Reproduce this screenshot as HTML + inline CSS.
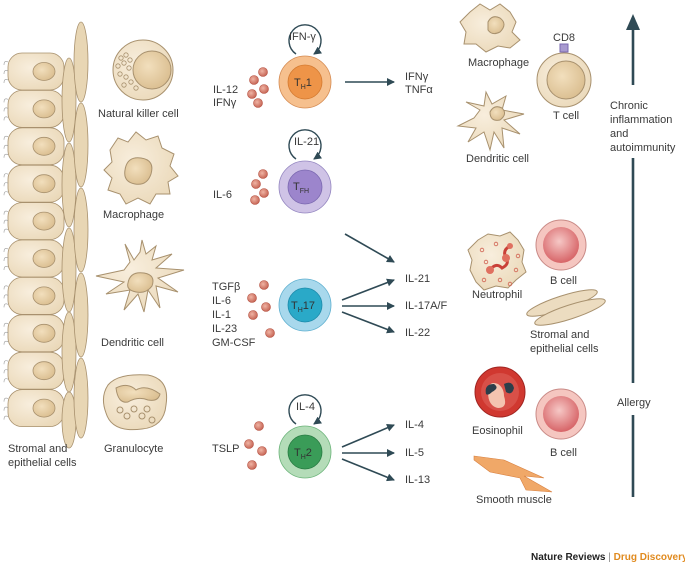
<!DOCTYPE html>
<html><head><meta charset="utf-8"><style>
html,body{margin:0;padding:0;background:#fff;}
svg{display:block;font-family:"Liberation Sans",sans-serif;}
text{fill:#3a3a3a;font-size:11px;}
</style></head><body>
<svg width="685" height="569" viewBox="0 0 685 569" xmlns="http://www.w3.org/2000/svg">
<defs>
<radialGradient id="beige" cx="0.4" cy="0.4" r="0.7"><stop offset="0" stop-color="#f8eedd"/><stop offset="1" stop-color="#ead8b8"/></radialGradient>
<radialGradient id="nuc" cx="0.4" cy="0.4" r="0.7"><stop offset="0" stop-color="#f2dfbd"/><stop offset="1" stop-color="#d8bb8c"/></radialGradient>
<radialGradient id="red" cx="0.4" cy="0.4" r="0.7"><stop offset="0" stop-color="#f0b4a4"/><stop offset="1" stop-color="#c05a4a"/></radialGradient>
<radialGradient id="bred" cx="0.45" cy="0.4" r="0.7"><stop offset="0" stop-color="#f6c8c6"/><stop offset="1" stop-color="#d25458"/></radialGradient>
<marker id="ah" markerWidth="8" markerHeight="8" refX="7" refY="4" orient="auto" markerUnits="userSpaceOnUse"><path d="M0,0 L8,4 L0,8 z" fill="#2f4a55"/></marker>
</defs>

<!-- epithelial column -->
<g stroke="#a8916e" stroke-width="0.8">
<g id="ep">
<rect x="8" y="53" width="56" height="37" rx="14" fill="url(#beige)"/>
<ellipse cx="44" cy="71.5" rx="11" ry="9" fill="url(#nuc)"/>
<path d="M8,62 q-4,-2 -4,3 M8,71 q-4,-2 -4,3 M8,80 q-4,-2 -4,3" fill="none" stroke="#999" stroke-width="0.6"/>
</g>
<use href="#ep" y="37.4"/><use href="#ep" y="74.8"/><use href="#ep" y="112.2"/><use href="#ep" y="149.6"/>
<use href="#ep" y="187"/><use href="#ep" y="224.4"/><use href="#ep" y="261.8"/><use href="#ep" y="299.2"/><use href="#ep" y="336.6"/>
<g fill="#e8d6b4">
<ellipse cx="69" cy="100" rx="7" ry="42"/><ellipse cx="69" cy="185" rx="7" ry="42"/><ellipse cx="69" cy="270" rx="7" ry="42"/><ellipse cx="69" cy="352" rx="7" ry="40"/><ellipse cx="69" cy="420" rx="7" ry="28"/>
<ellipse cx="81" cy="62" rx="7" ry="40"/><ellipse cx="81" cy="145" rx="7" ry="42"/><ellipse cx="81" cy="230" rx="7" ry="42"/><ellipse cx="81" cy="315" rx="7" ry="42"/><ellipse cx="81" cy="398" rx="7" ry="40"/>
</g>
</g>
<text x="8" y="452">Stromal and</text><text x="8" y="466">epithelial cells</text>

<!-- NK cell -->
<circle cx="143" cy="70" r="30" fill="url(#beige)" stroke="#a8916e"/>
<circle cx="152" cy="70" r="19" fill="url(#nuc)" stroke="#a8916e"/>
<g fill="none" stroke="#a8916e" stroke-width="0.8">
<circle cx="121" cy="58" r="2.2"/><circle cx="126" cy="55" r="2.2"/><circle cx="118" cy="66" r="2.2"/><circle cx="124" cy="63" r="2.2"/><circle cx="129" cy="68" r="2.2"/><circle cx="120" cy="74" r="2.2"/><circle cx="126" cy="77" r="2.2"/><circle cx="131" cy="82" r="2.2"/><circle cx="124" cy="85" r="2.2"/><circle cx="136" cy="88" r="2.2"/><circle cx="130" cy="60" r="2.2"/>
</g>
<text x="98" y="117">Natural killer cell</text>

<!-- Macrophage -->
<path d="M110,150 l8,-12 10,4 8,-10 10,8 12,-4 4,12 12,6 -4,12 8,10 -10,6 2,12 -14,0 -6,10 -12,-6 -12,6 -6,-10 -12,-4 4,-12 -8,-8 8,-8z" fill="url(#beige)" stroke="#a8916e"/>
<path d="M125,170 q2,-14 16,-12 q14,2 10,16 q-4,12 -16,10 q-12,-2 -10,-14z" fill="url(#nuc)" stroke="#a8916e"/>
<text x="103" y="218">Macrophage</text>

<!-- Dendritic -->
<path d="M130,262 l-5,-18 9,16 6,-8 2,-12 4,14 10,-8 -4,14 20,-6 -16,14 28,2 -26,8 20,14 -22,-6 4,22 -12,-18 -4,22 -6,-18 -14,16 6,-20 -24,4 18,-12 -28,-6 28,-6z" fill="url(#beige)" stroke="#a8916e"/>
<path d="M128,283 q2,-12 16,-10 q12,2 8,13 q-6,8 -16,6 q-10,-2 -8,-9z" fill="url(#nuc)" stroke="#a8916e"/>
<text x="101" y="346">Dendritic cell</text>

<!-- Granulocyte -->
<path d="M108,385 q10,-12 40,-10 q22,4 18,30 q-2,22 -24,24 q-30,4 -36,-16 q-6,-16 2,-28z" fill="url(#beige)" stroke="#a8916e"/>
<path d="M116,388 q12,-6 20,2 q10,-6 24,4 q-2,8 -12,6 q-10,-4 -20,2 q-10,2 -12,-14z" fill="url(#nuc)" stroke="#a8916e"/>
<g fill="none" stroke="#a8916e"><circle cx="120" cy="410" r="3"/><circle cx="127" cy="416" r="3"/><circle cx="134" cy="409" r="3"/><circle cx="142" cy="416" r="3"/><circle cx="147" cy="409" r="3"/><circle cx="152" cy="420" r="3"/></g>
<text x="104" y="452">Granulocyte</text>

<!-- T cells -->
<g stroke-width="0.8">
<circle cx="305" cy="82" r="26" fill="#f6c08e" stroke="#d58b52"/><circle cx="305" cy="82" r="17" fill="#ee9448" stroke="#d47a30"/>
<circle cx="305" cy="187" r="26" fill="#cfc3e6" stroke="#9486c0"/><circle cx="305" cy="187" r="17" fill="#9c85cc" stroke="#7a68b0"/>
<circle cx="305" cy="305" r="26" fill="#a8d8ec" stroke="#5fb0d0"/><circle cx="305" cy="305" r="17" fill="#2aa9c8" stroke="#1c8aaa"/>
<circle cx="305" cy="452" r="26" fill="#b4dcb8" stroke="#6cb47a"/><circle cx="305" cy="452" r="17" fill="#3a9c58" stroke="#287a42"/>
</g>
<text x="294" y="86" style="fill:#333">T<tspan font-size="7" dy="3">H</tspan><tspan dy="-3">1</tspan></text>
<text x="293" y="190" style="fill:#333">T<tspan font-size="7" dy="3">FH</tspan></text>
<text x="291" y="309" style="fill:#333">T<tspan font-size="7" dy="3">H</tspan><tspan dy="-3">17</tspan></text>
<text x="294" y="456" style="fill:#333">T<tspan font-size="7" dy="3">H</tspan><tspan dy="-3">2</tspan></text>

<!-- self loops -->
<g fill="none" stroke="#2f4a55" stroke-width="1.4">
<path d="M296,54 a16,16 0 1 1 18,0" marker-end="url(#ah)"/>
<path d="M296,159 a16,16 0 1 1 18,0" marker-end="url(#ah)"/>
<path d="M296,424 a16,16 0 1 1 18,0" marker-end="url(#ah)"/>
</g>
<text x="289" y="40">IFN-γ</text><text x="294" y="145">IL-21</text><text x="296" y="410">IL-4</text>

<!-- red dots -->
<g fill="url(#red)" stroke="#b55040" stroke-width="0.6">
<circle cx="263" cy="72" r="4.5"/><circle cx="254" cy="80" r="4.5"/><circle cx="264" cy="89" r="4.5"/><circle cx="252" cy="94" r="4.5"/><circle cx="258" cy="103" r="4.5"/>
<circle cx="263" cy="174" r="4.5"/><circle cx="256" cy="184" r="4.5"/><circle cx="264" cy="193" r="4.5"/><circle cx="255" cy="200" r="4.5"/>
<circle cx="264" cy="285" r="4.5"/><circle cx="252" cy="298" r="4.5"/><circle cx="266" cy="307" r="4.5"/><circle cx="253" cy="315" r="4.5"/><circle cx="270" cy="333" r="4.5"/>
<circle cx="259" cy="426" r="4.5"/><circle cx="249" cy="444" r="4.5"/><circle cx="262" cy="451" r="4.5"/><circle cx="252" cy="465" r="4.5"/>
</g>
<text x="213" y="93">IL-12</text><text x="213" y="106">IFNγ</text>
<text x="213" y="198">IL-6</text>
<text x="212" y="290">TGFβ</text><text x="212" y="304">IL-6</text><text x="212" y="318">IL-1</text><text x="212" y="332">IL-23</text><text x="212" y="346">GM-CSF</text>
<text x="212" y="452">TSLP</text>

<!-- arrows -->
<g stroke="#2f4a55" stroke-width="1.6" marker-end="url(#ah)">
<line x1="345" y1="82" x2="394" y2="82"/>
<line x1="345" y1="234" x2="394" y2="262"/>
<line x1="342" y1="300" x2="394" y2="280"/>
<line x1="342" y1="306" x2="394" y2="306"/>
<line x1="342" y1="312" x2="394" y2="332"/>
<line x1="342" y1="447" x2="394" y2="425"/>
<line x1="342" y1="453" x2="394" y2="453"/>
<line x1="342" y1="459" x2="394" y2="480"/>
</g>
<text x="405" y="80">IFNγ</text><text x="405" y="93">TNFα</text>
<text x="405" y="282">IL-21</text><text x="405" y="309">IL-17A/F</text><text x="405" y="336">IL-22</text>
<text x="405" y="428">IL-4</text><text x="405" y="456">IL-5</text><text x="405" y="483">IL-13</text>

<!-- right column cells -->
<path d="M470,12 l10,-8 10,6 10,-6 10,8 6,10 -4,10 8,8 -10,8 -12,-2 -12,6 -10,-8 -12,0 2,-12 -6,-10z" fill="url(#beige)" stroke="#a8916e"/>
<path d="M488,22 q4,-8 12,-4 q8,6 0,14 q-8,4 -12,-2z" fill="url(#nuc)" stroke="#a8916e"/>
<text x="468" y="66">Macrophage</text>
<rect x="560" y="44" width="8" height="8" fill="#a89ad0" stroke="#7a68b0"/>
<circle cx="564" cy="80" r="27" fill="url(#beige)" stroke="#a8916e"/>
<circle cx="566" cy="80" r="19" fill="url(#nuc)" stroke="#a8916e"/>
<text x="553" y="41">CD8</text><text x="553" y="119">T cell</text>
<path d="M480,110 l-14,-8 18,4 2,-14 6,12 14,-8 -4,14 22,4 -20,6 16,14 -18,-6 2,20 -10,-16 -4,18 -6,-18 -16,10 8,-14 -18,-2 16,-8z" fill="url(#beige)" stroke="#a8916e"/>
<path d="M490,112 q4,-8 12,-4 q6,6 -2,12 q-10,2 -10,-8z" fill="url(#nuc)" stroke="#a8916e"/>
<text x="466" y="162">Dendritic cell</text>

<!-- neutrophil -->
<path d="M478,240 l10,-6 12,2 10,-4 8,8 6,10 -2,12 4,10 -10,8 -8,8 -12,-2 -12,4 -8,-8 -6,-12 2,-10 -4,-10z" fill="url(#beige)" stroke="#a8916e"/>
<path d="M490,270 q6,-8 12,-2 q8,-4 4,-10 q-4,-8 4,-12" fill="none" stroke="#c94038" stroke-width="3"/>
<g fill="#e07060"><circle cx="490" cy="270" r="4"/><circle cx="506" cy="258" r="4"/><circle cx="510" cy="246" r="3"/></g>
<g fill="none" stroke="#d06050" stroke-width="0.8"><circle cx="482" cy="250" r="1.8"/><circle cx="496" cy="244" r="1.8"/><circle cx="518" cy="256" r="1.8"/><circle cx="486" cy="262" r="1.8"/><circle cx="516" cy="270" r="1.8"/><circle cx="500" cy="280" r="1.8"/><circle cx="484" cy="280" r="1.8"/><circle cx="510" cy="284" r="1.8"/></g>
<text x="472" y="298">Neutrophil</text>
<circle cx="561" cy="245" r="25" fill="#f5c6c0" stroke="#c98a86"/><circle cx="561" cy="245" r="18" fill="url(#bred)"/>
<text x="550" y="284">B cell</text>
<g fill="#ecdcc0" stroke="#a8916e"><ellipse cx="562" cy="303" rx="37" ry="7" transform="rotate(-18 562 303)"/><ellipse cx="570" cy="312" rx="37" ry="7" transform="rotate(-18 570 312)"/></g>
<text x="530" y="338">Stromal and</text><text x="530" y="352">epithelial cells</text>

<!-- eosinophil -->
<circle cx="500" cy="392" r="25" fill="#d03830" stroke="#a02420"/>
<circle cx="500" cy="392" r="19" fill="#d85048"/>
<path d="M488,392 q0,-12 10,-8 q6,4 6,12 q4,12 -6,12 q-10,-2 -10,-16z" fill="#f4c4b0"/>
<path d="M486,394 q-2,-10 8,-10 q6,4 -2,8 q-4,4 -6,2z M504,384 q8,-4 10,4 q-2,8 -8,4z" fill="#2c3e4a"/>
<text x="472" y="434">Eosinophil</text>
<circle cx="561" cy="414" r="25" fill="#f5c6c0" stroke="#c98a86"/><circle cx="561" cy="414" r="18" fill="url(#bred)"/>
<text x="550" y="456">B cell</text>
<path d="M474,456 l30,4 40,18 -20,-2 28,16 -26,-2 -6,-12 -30,-6 -16,-12z" fill="#f0a868" stroke="#d88040" stroke-width="0.6"/>
<text x="476" y="503">Smooth muscle</text>

<!-- vertical arrow -->
<g stroke="#2f4a55" stroke-width="2.6">
<line x1="633" y1="30" x2="633" y2="85"/><line x1="633" y1="158" x2="633" y2="383"/><line x1="633" y1="415" x2="633" y2="497"/>
</g>
<path d="M626,30 L633,14 L640,30z" fill="#2f4a55"/>
<text x="610" y="109">Chronic</text><text x="610" y="123">inflammation</text><text x="610" y="137">and</text><text x="610" y="151">autoimmunity</text>
<text x="617" y="406">Allergy</text>

<text x="531" y="560" style="font-size:10px;fill:#222;font-weight:bold">Nature Reviews <tspan font-weight="normal" fill="#888">|</tspan> <tspan fill="#e08a1e">Drug Discovery</tspan></text>
</svg>
</body></html>
